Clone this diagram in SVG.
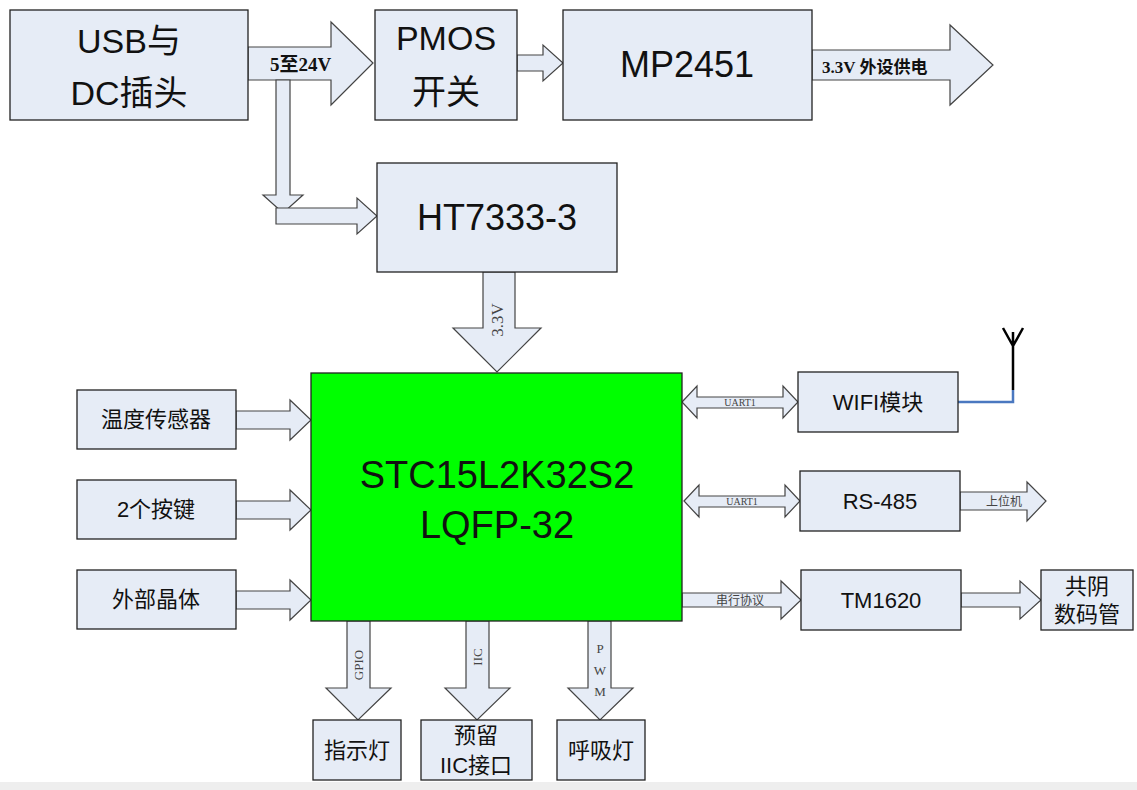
<svg xmlns="http://www.w3.org/2000/svg" width="1137" height="790" viewBox="0 0 1137 790">
<style>
.b{fill:#e6ecf6;stroke:#222;stroke-width:1.3}
.a{fill:#e6ecf6;stroke:#444;stroke-width:1.2}
.t{font-family:"Liberation Sans","Noto Sans CJK SC",sans-serif;fill:#111;text-anchor:middle}
.s{font-family:"Liberation Serif","Noto Sans CJK SC",serif;fill:#444;font-size:10px;text-anchor:middle}
.bs{font-family:"Liberation Serif","Noto Sans CJK SC",serif;font-weight:bold;fill:#111;font-size:19px}
</style>
<rect width="1137" height="790" fill="#fff"/>
<rect y="782" width="1137" height="8" fill="#eeeeee"/>
<g id="connectors">
<path class="a" d="M248,47 H331 V22 L373,63 L331,105 V80 H248 Z"/>
<path class="a" d="M276,80 H290 V195 H303 L283,213 L263,195 H276 Z"/>
<path class="a" d="M276,208 H357 V198 L377,216 L357,234 V224 H276 Z"/>
<path class="a" d="M517,55 H543 V45 L563,63 L543,81 V71 H517 Z"/>
<path class="a" d="M812,50 H950 V25 L993,65 L950,105 V80 H812 Z"/>
<path class="a" d="M483,272 H515 V328 H541 L497,372 L453,328 H483 Z"/>
<path class="a" d="M236,411 H290 V400 L311,420 L290,440 V429 H236 Z"/>
<path class="a" d="M236,501 H290 V490 L311,510 L290,530 V519 H236 Z"/>
<path class="a" d="M236,591 H290 V580 L311,600 L290,620 V609 H236 Z"/>
<path class="a" d="M682,402 L697,386 V397 H783 V386 L798,402 L783,418 V408 H697 V418 Z"/>
<path class="a" d="M684,501 L699,485 V496 H785 V485 L800,501 L785,517 V507 H699 V517 Z"/>
<path class="a" d="M682,593 H781 V581 L801,600 L781,619 V607 H682 Z"/>
<path class="a" d="M961,593 H1020 V581 L1041,600 L1020,619 V607 H961 Z"/>
<path class="a" d="M960,492 H1027 V482 L1046,501 L1027,521 V510 H960 Z"/>
<path class="a" d="M347,621 H370 V688 H391 L358,720 L326,688 H347 Z"/>
<path class="a" d="M466,621 H489 V688 H510 L477,720 L445,688 H466 Z"/>
<path class="a" d="M588,621 H611 V688 H633 L600,720 L568,688 H588 Z"/>
<path d="M958,402 H1013 V390" fill="none" stroke="#4a78c0" stroke-width="2.5"/>
<path d="M1013,390 V332 M1003,328 L1013,346 L1023,328" fill="none" stroke="#000" stroke-width="2.5"/>
<text class="bs" x="270" y="71">5至24V</text>
<text class="bs" x="822" y="73" style="font-size:17px">3.3V 外设供电</text>
<text class="s" transform="translate(503,320) rotate(-90)" style="font-size:17px">3.3V</text>
<text class="s" x="740" y="406">UART1</text>
<text class="s" x="742" y="505">UART1</text>
<text class="s" x="740" y="605" style="font-size:12px">串行协议</text>
<text class="s" x="1004" y="506" style="font-size:12px">上位机</text>
<text class="s" transform="translate(363,665) rotate(-90)" style="font-size:13px">GPIO</text>
<text class="s" transform="translate(482,657) rotate(-90)" style="font-size:13px">IIC</text>
<text class="s" x="600" y="653" style="font-size:13px">P</text>
<text class="s" x="600" y="675" style="font-size:13px">W</text>
<text class="s" x="600" y="696" style="font-size:13px">M</text>
</g>
<g id="usb"><rect class="b" x="10" y="10" width="238" height="110"/><text class="t" x="129" y="53" font-size="34">USB与</text><text class="t" x="129" y="105" font-size="34">DC插头</text></g>
<g id="pmos"><rect class="b" x="375" y="10" width="142" height="110"/><text class="t" x="446" y="50" font-size="34">PMOS</text><text class="t" x="446" y="104" font-size="34">开关</text></g>
<g id="mp2451"><rect class="b" x="563" y="10" width="249" height="110"/><text class="t" x="687" y="77" font-size="36">MP2451</text></g>
<g id="ht7333"><rect class="b" x="377" y="163" width="240" height="109"/><text class="t" x="497" y="230" font-size="36">HT7333-3</text></g>
<g id="mcu"><rect x="311" y="373" width="371" height="248" fill="#00ff00" stroke="#222" stroke-width="1.3"/><text class="t" x="497" y="488" font-size="38">STC15L2K32S2</text><text class="t" x="497" y="538" font-size="38">LQFP-32</text></g>
<g id="temp"><rect class="b" x="77" y="390" width="159" height="59"/><text class="t" x="156" y="427" font-size="22">温度传感器</text></g>
<g id="keys"><rect class="b" x="77" y="480" width="159" height="59"/><text class="t" x="156" y="517" font-size="22">2个按键</text></g>
<g id="xtal"><rect class="b" x="77" y="570" width="159" height="59"/><text class="t" x="156" y="607" font-size="22">外部晶体</text></g>
<g id="wifi"><rect class="b" x="798" y="372" width="160" height="60"/><text class="t" x="878" y="410" font-size="22">WIFI模块</text></g>
<g id="rs485"><rect class="b" x="800" y="471" width="160" height="60"/><text class="t" x="880" y="509" font-size="22">RS-485</text></g>
<g id="tm1620"><rect class="b" x="801" y="570" width="160" height="60"/><text class="t" x="881" y="608" font-size="22">TM1620</text></g>
<g id="seg"><rect class="b" x="1041" y="570" width="92" height="60"/><text class="t" x="1087" y="594" font-size="22">共阴</text><text class="t" x="1087" y="622" font-size="22">数码管</text></g>
<g id="led"><rect class="b" x="313" y="720" width="88" height="60"/><text class="t" x="357" y="758" font-size="22">指示灯</text></g>
<g id="iic"><rect class="b" x="421" y="720" width="111" height="60"/><text class="t" x="476" y="743" font-size="22">预留</text><text class="t" x="476" y="773" font-size="22">IIC接口</text></g>
<g id="breath"><rect class="b" x="557" y="720" width="88" height="60"/><text class="t" x="601" y="758" font-size="22">呼吸灯</text></g>
</svg>
